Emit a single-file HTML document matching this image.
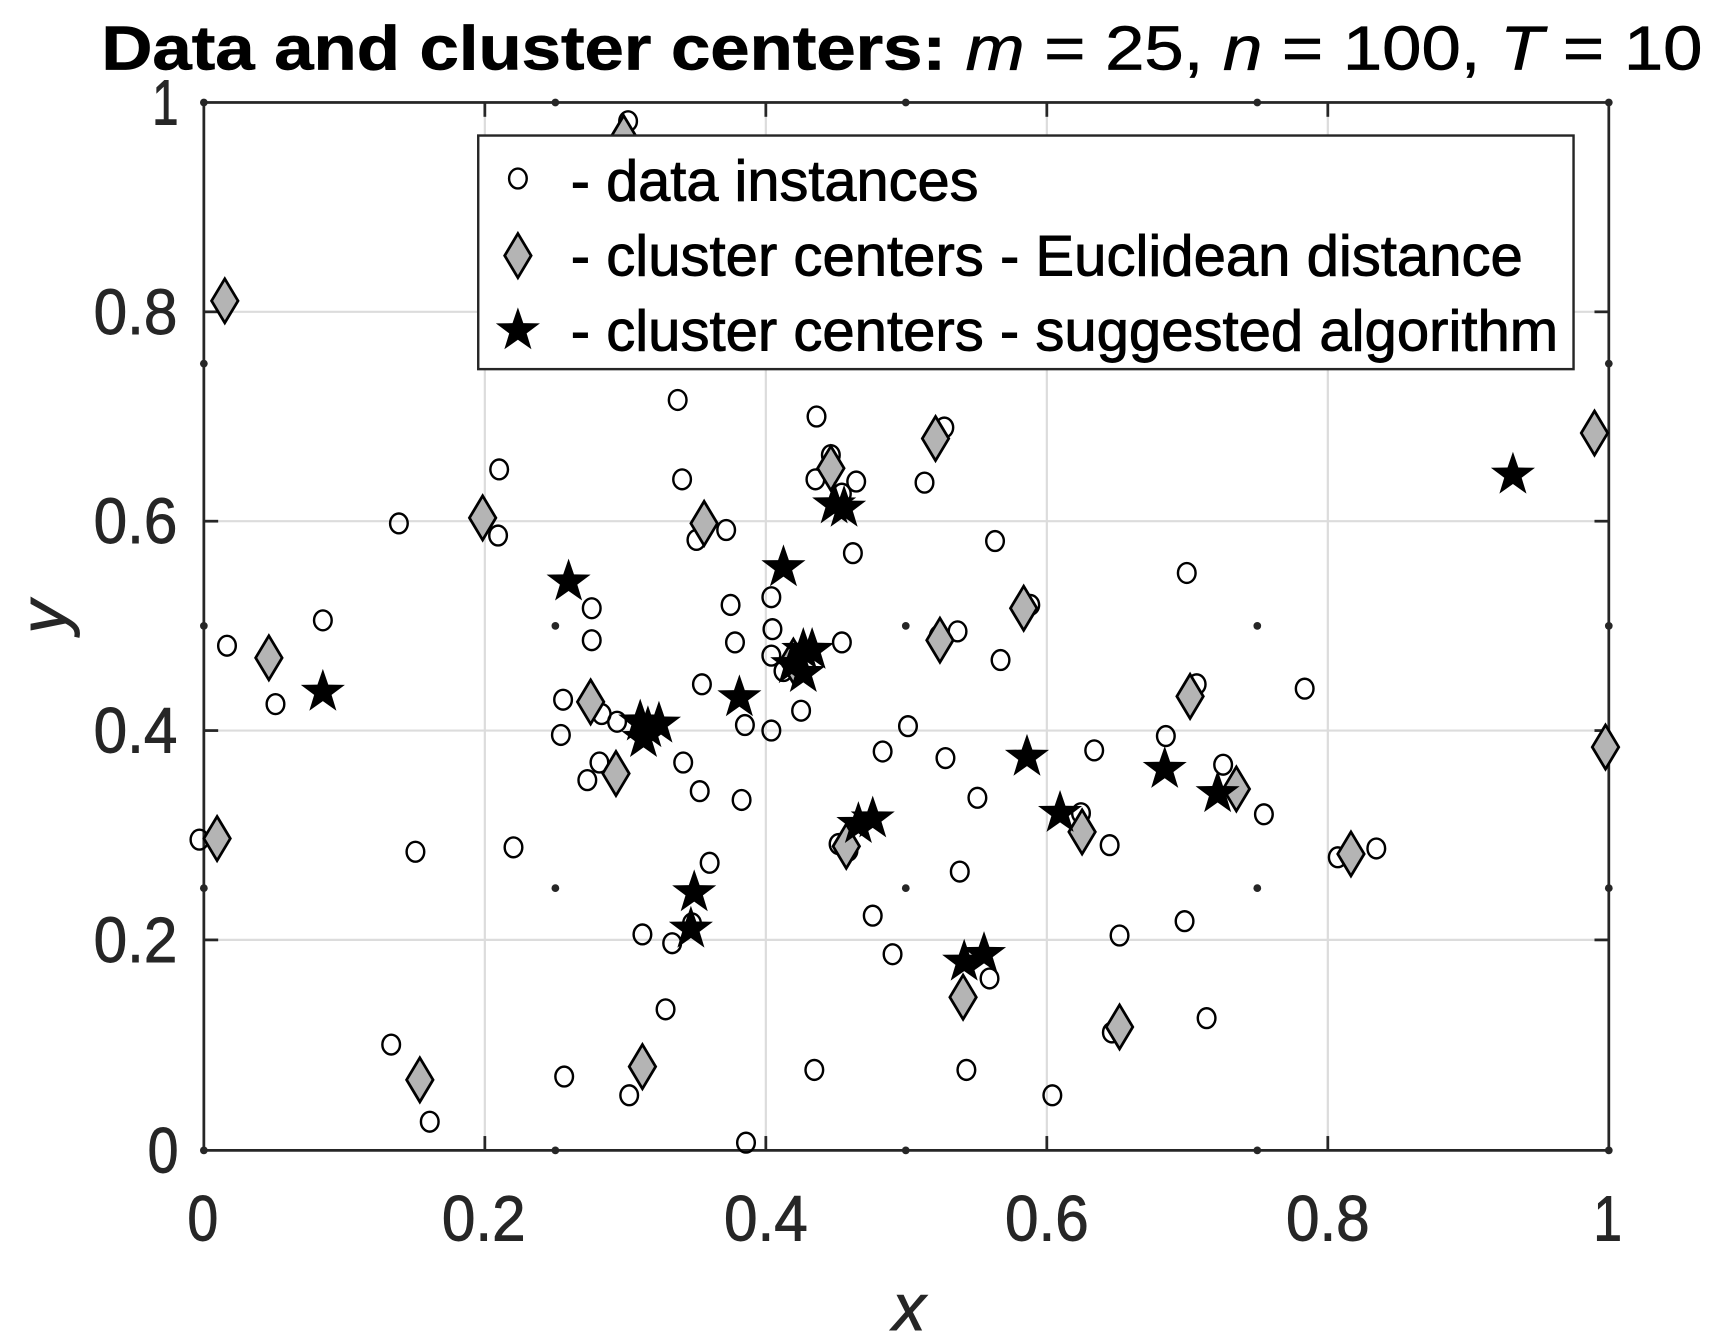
<!DOCTYPE html>
<html><head><meta charset="utf-8"><style>html,body{margin:0;padding:0;background:#fff}svg{display:block}</style></head>
<body>
<svg width="1719" height="1341" viewBox="0 0 1560 1217" preserveAspectRatio="none" xmlns="http://www.w3.org/2000/svg" font-family="Liberation Sans, Arial, sans-serif">
<defs>
<path id="st" d="M0,-21 L4.9,-6.7 L20,-6.5 L7.9,2.6 L12.3,17 L0,8.3 L-12.3,17 L-7.9,2.6 L-20,-6.5 L-4.9,-6.7Z" fill="#000"/>
<path id="dm" d="M0,-20 L12,0 L0,20 L-12,0Z" fill="#b4b4b4" stroke="#000" stroke-width="2.5"/>
<ellipse id="ci" rx="8" ry="9" fill="none" stroke="#000" stroke-width="2.2"/>
</defs>
<rect width="1560" height="1217" fill="#fff"/>
<g stroke="#dcdcdc" stroke-width="2">
<line x1="440" y1="93" x2="440" y2="1044"/><line x1="695" y1="93" x2="695" y2="1044"/><line x1="950" y1="93" x2="950" y2="1044"/><line x1="1205" y1="93" x2="1205" y2="1044"/>
<line x1="185" y1="853" x2="1460" y2="853"/><line x1="185" y1="663" x2="1460" y2="663"/><line x1="185" y1="473" x2="1460" y2="473"/><line x1="185" y1="283" x2="1460" y2="283"/>
</g>
<rect x="185" y="93" width="1275" height="951" fill="none" stroke="#262626" stroke-width="2.5"/>
<g stroke="#262626" stroke-width="2.5">
<line x1="440" y1="1044" x2="440" y2="1031"/><line x1="695" y1="1044" x2="695" y2="1031"/><line x1="950" y1="1044" x2="950" y2="1031"/><line x1="1205" y1="1044" x2="1205" y2="1031"/>
<line x1="440" y1="93" x2="440" y2="106"/><line x1="695" y1="93" x2="695" y2="106"/><line x1="950" y1="93" x2="950" y2="106"/><line x1="1205" y1="93" x2="1205" y2="106"/>
<line x1="185" y1="853" x2="198" y2="853"/><line x1="185" y1="663" x2="198" y2="663"/><line x1="185" y1="473" x2="198" y2="473"/><line x1="185" y1="283" x2="198" y2="283"/>
<line x1="1460" y1="853" x2="1447" y2="853"/><line x1="1460" y1="663" x2="1447" y2="663"/><line x1="1460" y1="473" x2="1447" y2="473"/><line x1="1460" y1="283" x2="1447" y2="283"/>
</g>
<g fill="#262626">
<circle cx="185" cy="93" r="3.5"/><circle cx="504" cy="93" r="3.5"/><circle cx="822" cy="93" r="3.5"/><circle cx="1141" cy="93" r="3.5"/><circle cx="1460" cy="93" r="3.5"/>
<circle cx="185" cy="1044" r="3.5"/><circle cx="504" cy="1044" r="3.5"/><circle cx="822" cy="1044" r="3.5"/><circle cx="1141" cy="1044" r="3.5"/><circle cx="1460" cy="1044" r="3.5"/>
<circle cx="185" cy="330" r="3.5"/><circle cx="185" cy="568" r="3.5"/><circle cx="185" cy="806" r="3.5"/>
<circle cx="1460" cy="330" r="3.5"/><circle cx="1460" cy="568" r="3.5"/><circle cx="1460" cy="806" r="3.5"/>
<circle cx="504" cy="568" r="3.5"/><circle cx="504" cy="806" r="3.5"/><circle cx="822" cy="568" r="3.5"/><circle cx="822" cy="806" r="3.5"/><circle cx="1141" cy="568" r="3.5"/><circle cx="1141" cy="806" r="3.5"/>
</g>
<g>
<use href="#ci" x="570" y="110"/><use href="#ci" x="206" y="586"/><use href="#ci" x="250" y="639"/><use href="#ci" x="293" y="563"/><use href="#ci" x="181" y="762"/><use href="#ci" x="362" y="475"/><use href="#ci" x="453" y="426"/><use href="#ci" x="452" y="486"/><use href="#ci" x="377" y="773"/><use href="#ci" x="466" y="769"/><use href="#ci" x="355" y="948"/><use href="#ci" x="390" y="1018"/><use href="#ci" x="512" y="977"/><use href="#ci" x="571" y="994"/><use href="#ci" x="583" y="848"/><use href="#ci" x="610" y="856"/><use href="#ci" x="604" y="916"/><use href="#ci" x="509" y="667"/><use href="#ci" x="511" y="635"/><use href="#ci" x="537" y="552"/><use href="#ci" x="537" y="581"/><use href="#ci" x="533" y="708"/><use href="#ci" x="544" y="692"/><use href="#ci" x="546" y="648"/><use href="#ci" x="615" y="363"/><use href="#ci" x="619" y="435"/><use href="#ci" x="632" y="490"/><use href="#ci" x="659" y="481"/><use href="#ci" x="663" y="549"/><use href="#ci" x="667" y="583"/><use href="#ci" x="637" y="621"/><use href="#ci" x="620" y="692"/><use href="#ci" x="635" y="718"/><use href="#ci" x="644" y="783"/><use href="#ci" x="676" y="658"/><use href="#ci" x="673" y="726"/><use href="#ci" x="700" y="542"/><use href="#ci" x="700" y="663"/><use href="#ci" x="701" y="571"/><use href="#ci" x="739" y="971"/><use href="#ci" x="677" y="1037"/><use href="#ci" x="727" y="645"/><use href="#ci" x="741" y="378"/><use href="#ci" x="754" y="413"/><use href="#ci" x="740" y="435"/><use href="#ci" x="777" y="437"/><use href="#ci" x="774" y="502"/><use href="#ci" x="764" y="583"/><use href="#ci" x="761" y="766"/><use href="#ci" x="770" y="772"/><use href="#ci" x="801" y="682"/><use href="#ci" x="792" y="831"/><use href="#ci" x="810" y="866"/><use href="#ci" x="824" y="659"/><use href="#ci" x="839" y="438"/><use href="#ci" x="857" y="388"/><use href="#ci" x="869" y="573"/><use href="#ci" x="858" y="688"/><use href="#ci" x="887" y="724"/><use href="#ci" x="903" y="491"/><use href="#ci" x="908" y="599"/><use href="#ci" x="871" y="791"/><use href="#ci" x="877" y="971"/><use href="#ci" x="898" y="888"/><use href="#ci" x="955" y="994"/><use href="#ci" x="935" y="549"/><use href="#ci" x="981" y="738"/><use href="#ci" x="993" y="681"/><use href="#ci" x="1007" y="767"/><use href="#ci" x="1016" y="849"/><use href="#ci" x="1009" y="937"/><use href="#ci" x="1058" y="668"/><use href="#ci" x="1077" y="520"/><use href="#ci" x="1086" y="621"/><use href="#ci" x="1110" y="694"/><use href="#ci" x="1075" y="836"/><use href="#ci" x="1095" y="924"/><use href="#ci" x="1147" y="739"/><use href="#ci" x="1184" y="625"/><use href="#ci" x="1214" y="778"/><use href="#ci" x="1249" y="770"/><use href="#ci" x="852" y="577"/><use href="#ci" x="628" y="838"/><use href="#ci" x="711" y="609"/><use href="#ci" x="764" y="448"/><use href="#ci" x="700" y="595"/><use href="#ci" x="560" y="655"/>
</g>
<g>
<use href="#dm" x="204" y="273"/><use href="#dm" x="197" y="761"/><use href="#dm" x="244" y="597"/><use href="#dm" x="438" y="470"/><use href="#dm" x="536" y="637"/><use href="#dm" x="559" y="702"/><use href="#dm" x="381" y="980"/><use href="#dm" x="583" y="968"/><use href="#dm" x="566" y="125"/><use href="#dm" x="639" y="475"/><use href="#dm" x="754" y="425"/><use href="#dm" x="849" y="398"/><use href="#dm" x="853" y="581"/><use href="#dm" x="929" y="552"/><use href="#dm" x="768" y="768"/><use href="#dm" x="982" y="755"/><use href="#dm" x="874" y="905"/><use href="#dm" x="1016" y="932"/><use href="#dm" x="1080" y="632"/><use href="#dm" x="1122" y="716"/><use href="#dm" x="1226" y="775"/><use href="#dm" x="1447" y="393"/><use href="#dm" x="1457" y="678"/><use href="#dm" x="720" y="600"/>
</g>
<g>
<use href="#st" x="293" y="628"/><use href="#st" x="516" y="528"/><use href="#st" x="581" y="655"/><use href="#st" x="588" y="661"/><use href="#st" x="598" y="657"/><use href="#st" x="584" y="670"/><use href="#st" x="671" y="633"/><use href="#st" x="711" y="515"/><use href="#st" x="757" y="458"/><use href="#st" x="766" y="461"/><use href="#st" x="719" y="603"/><use href="#st" x="729" y="590"/><use href="#st" x="737" y="590"/><use href="#st" x="729" y="611"/><use href="#st" x="630" y="810"/><use href="#st" x="627" y="843"/><use href="#st" x="779" y="748"/><use href="#st" x="792" y="743"/><use href="#st" x="875" y="873"/><use href="#st" x="893" y="866"/><use href="#st" x="932" y="687"/><use href="#st" x="962" y="738"/><use href="#st" x="1057" y="698"/><use href="#st" x="1105" y="720"/><use href="#st" x="1373" y="431"/>
</g>
<rect x="434" y="123" width="994" height="212" fill="#fff" stroke="#262626" stroke-width="2.2"/>
<use href="#ci" x="470" y="162"/>
<use href="#dm" x="470" y="232"/>
<use href="#st" x="470" y="300"/>
<g font-size="52" fill="#000" stroke="#000" stroke-width="0.8">
<text x="518" y="182" textLength="370" lengthAdjust="spacingAndGlyphs">- data instances</text>
<text x="518" y="250" textLength="864" lengthAdjust="spacingAndGlyphs">- cluster centers - Euclidean distance</text>
<text x="518" y="318" textLength="896" lengthAdjust="spacingAndGlyphs">- cluster centers - suggested algorithm</text>
</g>
<g font-size="58" fill="#262626" stroke="#262626" stroke-width="0.8">
<text x="170" y="1126" textLength="28" lengthAdjust="spacingAndGlyphs">0</text>
<text x="401" y="1126" textLength="76" lengthAdjust="spacingAndGlyphs">0.2</text>
<text x="657" y="1126" textLength="76" lengthAdjust="spacingAndGlyphs">0.4</text>
<text x="912" y="1126" textLength="76" lengthAdjust="spacingAndGlyphs">0.6</text>
<text x="1167" y="1126" textLength="76" lengthAdjust="spacingAndGlyphs">0.8</text>
<text x="1446" y="1126" textLength="26" lengthAdjust="spacingAndGlyphs">1</text>
<text x="134" y="1064" textLength="28" lengthAdjust="spacingAndGlyphs">0</text>
<text x="85" y="873" textLength="76" lengthAdjust="spacingAndGlyphs">0.2</text>
<text x="85" y="683" textLength="76" lengthAdjust="spacingAndGlyphs">0.4</text>
<text x="85" y="493" textLength="76" lengthAdjust="spacingAndGlyphs">0.6</text>
<text x="85" y="303" textLength="76" lengthAdjust="spacingAndGlyphs">0.8</text>
<text x="138" y="113" textLength="24" lengthAdjust="spacingAndGlyphs">1</text>
</g>
<text x="825" y="1207" font-size="60" font-style="italic" fill="#262626" stroke="#262626" stroke-width="0.8" text-anchor="middle">x</text>
<text transform="translate(60,560) rotate(-90)" font-size="60" font-style="italic" fill="#262626" stroke="#262626" stroke-width="0.8" text-anchor="middle">y</text>
<text x="92" y="63" font-size="56" fill="#000" stroke="#000" stroke-width="0.6" textLength="1453" lengthAdjust="spacingAndGlyphs"><tspan font-weight="bold">Data and cluster centers: </tspan><tspan font-style="italic">m</tspan> = 25, <tspan font-style="italic">n</tspan> = 100, <tspan font-style="italic">T</tspan> = 10</text>
</svg>
</body></html>
